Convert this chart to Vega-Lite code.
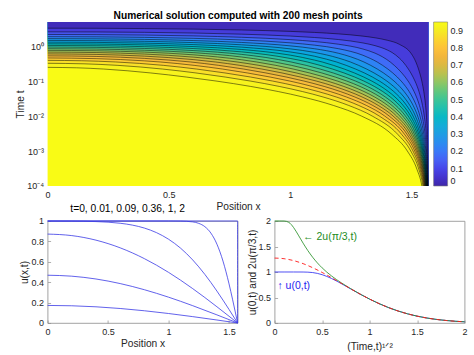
{
 "$schema": "https://vega.github.io/schema/vega-lite/v6.json",
 "background": "white",
 "padding": {"left": 15.6, "top": 10, "right": 2, "bottom": 2},
 "config": {
  "font": "Liberation Sans",
  "view": {"stroke": "#8c8c8c", "strokeWidth": 0.8},
  "axis": {"labelFontSize": 9, "titleFontSize": 10.2, "labelColor": "#262626", "titleColor": "#262626", "titleFontWeight": "normal", "grid": false, "domain": false, "ticks": true, "tickColor": "#8c8c8c", "tickSize": -3, "tickWidth": 0.7, "labelPadding": 7, "titlePadding": 1, "labelFlush": false, "labelOverlap": false},
  "axisX": {"labelPadding": 8},
  "title": {"color": "#000000", "fontSize": 10.2}
 },
 "spacing": 35,
 "bounds": "flush",
 "vconcat": [
  {
   "width": 381, "height": 164,
   "title": {"text": "Numerical solution computed with 200 mesh points", "fontWeight": "bold", "fontSize": 10.2, "offset": 1},
   "view": {"fill": "#f9fb15", "stroke": null},
   "data": {"values": [
{"c":0.95,"x":1.568,"t":1e-6},{"c":0.95,"x":1.562,"t":1e-5},{"c":0.95,"x":1.5431,"t":0.0001},{"c":0.95,"x":1.5228,"t":0.0003},{"c":0.95,"x":1.4831,"t":0.001},{"c":0.95,"x":1.419,"t":0.003},{"c":0.95,"x":1.2936,"t":0.01},{"c":0.95,"x":1.1788,"t":0.02},{"c":0.95,"x":1.0522,"t":0.035},{"c":0.95,"x":0.951,"t":0.05},{"c":0.95,"x":0.8374,"t":0.07},{"c":0.95,"x":0.6943,"t":0.1},{"c":0.95,"x":0.5714,"t":0.13},{"c":0.95,"x":0.425,"t":0.17},{"c":0.95,"x":0.231,"t":0.22},{"c":0.95,"x":0.12,"t":0.2387},{"c":0.95,"x":0,"t":0.2456},
{"c":0.9,"x":1.5685,"t":1e-6},{"c":0.9,"x":1.5634,"t":1e-5},{"c":0.9,"x":1.5475,"t":0.0001},{"c":0.9,"x":1.5305,"t":0.0003},{"c":0.9,"x":1.4972,"t":0.001},{"c":0.9,"x":1.4434,"t":0.003},{"c":0.9,"x":1.3382,"t":0.01},{"c":0.9,"x":1.2418,"t":0.02},{"c":0.9,"x":1.1356,"t":0.035},{"c":0.9,"x":1.0507,"t":0.05},{"c":0.9,"x":0.9554,"t":0.07},{"c":0.9,"x":0.8352,"t":0.1},{"c":0.9,"x":0.7321,"t":0.13},{"c":0.9,"x":0.6117,"t":0.17},{"c":0.9,"x":0.4732,"t":0.22},{"c":0.9,"x":0.29,"t":0.28},{"c":0.9,"x":0.15,"t":0.31},{"c":0.9,"x":0,"t":0.3212},
{"c":0.85,"x":1.5688,"t":1e-6},{"c":0.85,"x":1.5644,"t":1e-5},{"c":0.85,"x":1.5504,"t":0.0001},{"c":0.85,"x":1.5355,"t":0.0003},{"c":0.85,"x":1.5064,"t":0.001},{"c":0.85,"x":1.4593,"t":0.003},{"c":0.85,"x":1.3672,"t":0.01},{"c":0.85,"x":1.2829,"t":0.02},{"c":0.85,"x":1.1899,"t":0.035},{"c":0.85,"x":1.1156,"t":0.05},{"c":0.85,"x":1.0322,"t":0.07},{"c":0.85,"x":0.927,"t":0.1},{"c":0.85,"x":0.8368,"t":0.13},{"c":0.85,"x":0.7314,"t":0.17},{"c":0.85,"x":0.614,"t":0.22},{"c":0.85,"x":0.478,"t":0.28},{"c":0.85,"x":0.281,"t":0.35},{"c":0.85,"x":0.14,"t":0.3795},{"c":0.85,"x":0,"t":0.3892},
{"c":0.8,"x":1.569,"t":1e-6},{"c":0.8,"x":1.5651,"t":1e-5},{"c":0.8,"x":1.5527,"t":0.0001},{"c":0.8,"x":1.5394,"t":0.0003},{"c":0.8,"x":1.5135,"t":0.001},{"c":0.8,"x":1.4715,"t":0.003},{"c":0.8,"x":1.3896,"t":0.01},{"c":0.8,"x":1.3145,"t":0.02},{"c":0.8,"x":1.2317,"t":0.035},{"c":0.8,"x":1.1655,"t":0.05},{"c":0.8,"x":1.0913,"t":0.07},{"c":0.8,"x":0.9977,"t":0.1},{"c":0.8,"x":0.9173,"t":0.13},{"c":0.8,"x":0.8235,"t":0.17},{"c":0.8,"x":0.7207,"t":0.22},{"c":0.8,"x":0.6043,"t":0.28},{"c":0.8,"x":0.464,"t":0.35},{"c":0.8,"x":0.4,"t":0.3764},{"c":0.8,"x":0.3,"t":0.4114},{"c":0.8,"x":0.2,"t":0.436},{"c":0.8,"x":0,"t":0.456},
{"c":0.75,"x":1.5692,"t":1e-6},{"c":0.75,"x":1.5657,"t":1e-5},{"c":0.75,"x":1.5545,"t":0.0001},{"c":0.75,"x":1.5426,"t":0.0003},{"c":0.75,"x":1.5194,"t":0.001},{"c":0.75,"x":1.4817,"t":0.003},{"c":0.75,"x":1.4081,"t":0.01},{"c":0.75,"x":1.3407,"t":0.02},{"c":0.75,"x":1.2664,"t":0.035},{"c":0.75,"x":1.207,"t":0.05},{"c":0.75,"x":1.1404,"t":0.07},{"c":0.75,"x":1.0563,"t":0.1},{"c":0.75,"x":0.9842,"t":0.13},{"c":0.75,"x":0.9,"t":0.17},{"c":0.75,"x":0.8077,"t":0.22},{"c":0.75,"x":0.7056,"t":0.28},{"c":0.75,"x":0.589,"t":0.35},{"c":0.75,"x":0.5,"t":0.3975},{"c":0.75,"x":0.4,"t":0.4433},{"c":0.75,"x":0.2,"t":0.504},{"c":0.75,"x":0,"t":0.5242},
{"c":0.7,"x":1.5693,"t":1e-6},{"c":0.7,"x":1.5662,"t":1e-5},{"c":0.7,"x":1.5561,"t":0.0001},{"c":0.7,"x":1.5454,"t":0.0003},{"c":0.7,"x":1.5244,"t":0.001},{"c":0.7,"x":1.4905,"t":0.003},{"c":0.7,"x":1.4242,"t":0.01},{"c":0.7,"x":1.3635,"t":0.02},{"c":0.7,"x":1.2966,"t":0.035},{"c":0.7,"x":1.2431,"t":0.05},{"c":0.7,"x":1.183,"t":0.07},{"c":0.7,"x":1.1073,"t":0.1},{"c":0.7,"x":1.0423,"t":0.13},{"c":0.7,"x":0.9665,"t":0.17},{"c":0.7,"x":0.8833,"t":0.22},{"c":0.7,"x":0.7927,"t":0.28},{"c":0.7,"x":0.6915,"t":0.35},{"c":0.7,"x":0.6,"t":0.4098},{"c":0.7,"x":0.4,"t":0.5139},{"c":0.7,"x":0.2,"t":0.5753},{"c":0.7,"x":0,"t":0.5953},
{"c":0.65,"x":1.5695,"t":1e-6},{"c":0.65,"x":1.5666,"t":1e-5},{"c":0.65,"x":1.5576,"t":0.0001},{"c":0.65,"x":1.5479,"t":0.0003},{"c":0.65,"x":1.529,"t":0.001},{"c":0.65,"x":1.4984,"t":0.003},{"c":0.65,"x":1.4386,"t":0.01},{"c":0.65,"x":1.3839,"t":0.02},{"c":0.65,"x":1.3235,"t":0.035},{"c":0.65,"x":1.2753,"t":0.05},{"c":0.65,"x":1.2211,"t":0.07},{"c":0.65,"x":1.1528,"t":0.1},{"c":0.65,"x":1.0942,"t":0.13},{"c":0.65,"x":1.0258,"t":0.17},{"c":0.65,"x":0.9508,"t":0.22},{"c":0.65,"x":0.8714,"t":0.28},{"c":0.65,"x":0.781,"t":0.35},{"c":0.65,"x":0.7,"t":0.4129},{"c":0.65,"x":0.6,"t":0.4823},{"c":0.65,"x":0.4,"t":0.5889},{"c":0.65,"x":0.2,"t":0.6507},{"c":0.65,"x":0,"t":0.6708},
{"c":0.6,"x":1.5696,"t":1e-6},{"c":0.6,"x":1.567,"t":1e-5},{"c":0.6,"x":1.5589,"t":0.0001},{"c":0.6,"x":1.5502,"t":0.0003},{"c":0.6,"x":1.5332,"t":0.001},{"c":0.6,"x":1.5056,"t":0.003},{"c":0.6,"x":1.4518,"t":0.01},{"c":0.6,"x":1.4025,"t":0.02},{"c":0.6,"x":1.3481,"t":0.035},{"c":0.6,"x":1.3047,"t":0.05},{"c":0.6,"x":1.2559,"t":0.07},{"c":0.6,"x":1.1944,"t":0.1},{"c":0.6,"x":1.1417,"t":0.13},{"c":0.6,"x":1.0801,"t":0.17},{"c":0.6,"x":1.0125,"t":0.22},{"c":0.6,"x":0.941,"t":0.28},{"c":0.6,"x":0.8614,"t":0.35},{"c":0.6,"x":0.8,"t":0.4046},{"c":0.6,"x":0.6,"t":0.5614},{"c":0.6,"x":0.4,"t":0.6696},{"c":0.6,"x":0.2,"t":0.7315},{"c":0.6,"x":0,"t":0.7516},
{"c":0.55,"x":1.5697,"t":1e-6},{"c":0.55,"x":1.5674,"t":1e-5},{"c":0.55,"x":1.5601,"t":0.0001},{"c":0.55,"x":1.5523,"t":0.0003},{"c":0.55,"x":1.537,"t":0.001},{"c":0.55,"x":1.5123,"t":0.003},{"c":0.55,"x":1.464,"t":0.01},{"c":0.55,"x":1.4197,"t":0.02},{"c":0.55,"x":1.371,"t":0.035},{"c":0.55,"x":1.3319,"t":0.05},{"c":0.55,"x":1.2882,"t":0.07},{"c":0.55,"x":1.233,"t":0.1},{"c":0.55,"x":1.1857,"t":0.13},{"c":0.55,"x":1.1304,"t":0.17},{"c":0.55,"x":1.0698,"t":0.22},{"c":0.55,"x":1.0056,"t":0.28},{"c":0.55,"x":0.935,"t":0.35},{"c":0.55,"x":0.9,"t":0.386},{"c":0.55,"x":0.8,"t":0.4852},{"c":0.55,"x":0.6,"t":0.6479},{"c":0.55,"x":0.4,"t":0.7569},{"c":0.55,"x":0.2,"t":0.8189},{"c":0.55,"x":0,"t":0.839},
{"c":0.5,"x":1.5698,"t":1e-6},{"c":0.5,"x":1.5678,"t":1e-5},{"c":0.5,"x":1.5613,"t":0.0001},{"c":0.5,"x":1.5543,"t":0.0003},{"c":0.5,"x":1.5406,"t":0.001},{"c":0.5,"x":1.5186,"t":0.003},{"c":0.5,"x":1.4754,"t":0.01},{"c":0.5,"x":1.4359,"t":0.02},{"c":0.5,"x":1.3923,"t":0.035},{"c":0.5,"x":1.3575,"t":0.05},{"c":0.5,"x":1.3184,"t":0.07},{"c":0.5,"x":1.2692,"t":0.1},{"c":0.5,"x":1.2269,"t":0.13},{"c":0.5,"x":1.1775,"t":0.17},{"c":0.5,"x":1.1234,"t":0.22},{"c":0.5,"x":1.0661,"t":0.28},{"c":0.5,"x":1.0038,"t":0.35},{"c":0.5,"x":0.9,"t":0.4704},{"c":0.5,"x":0.8,"t":0.5769},{"c":0.5,"x":0.6,"t":0.7425},{"c":0.5,"x":0.4,"t":0.8525},{"c":0.5,"x":0.2,"t":0.9146},{"c":0.5,"x":0,"t":0.9347},
{"c":0.45,"x":1.57,"t":1e-6},{"c":0.45,"x":1.5681,"t":1e-5},{"c":0.45,"x":1.5623,"t":0.0001},{"c":0.45,"x":1.5562,"t":0.0003},{"c":0.45,"x":1.5441,"t":0.001},{"c":0.45,"x":1.5245,"t":0.003},{"c":0.45,"x":1.4863,"t":0.01},{"c":0.45,"x":1.4512,"t":0.02},{"c":0.45,"x":1.4126,"t":0.035},{"c":0.45,"x":1.3818,"t":0.05},{"c":0.45,"x":1.3471,"t":0.07},{"c":0.45,"x":1.3035,"t":0.1},{"c":0.45,"x":1.266,"t":0.13},{"c":0.45,"x":1.2222,"t":0.17},{"c":0.45,"x":1.1743,"t":0.22},{"c":0.45,"x":1.1235,"t":0.28},{"c":0.45,"x":1.0707,"t":0.35},{"c":0.45,"x":1.0,"t":0.4416},{"c":0.45,"x":0.9,"t":0.5699},{"c":0.45,"x":0.8,"t":0.6801},{"c":0.45,"x":0.6,"t":0.848},{"c":0.45,"x":0.4,"t":0.9578},{"c":0.45,"x":0.2,"t":1.0199},{"c":0.45,"x":0,"t":1.04},
{"c":0.4,"x":1.5701,"t":1e-6},{"c":0.4,"x":1.5685,"t":1e-5},{"c":0.4,"x":1.5634,"t":0.0001},{"c":0.4,"x":1.558,"t":0.0003},{"c":0.4,"x":1.5473,"t":0.001},{"c":0.4,"x":1.5302,"t":0.003},{"c":0.4,"x":1.4966,"t":0.01},{"c":0.4,"x":1.4659,"t":0.02},{"c":0.4,"x":1.4321,"t":0.035},{"c":0.4,"x":1.405,"t":0.05},{"c":0.4,"x":1.3746,"t":0.07},{"c":0.4,"x":1.3363,"t":0.1},{"c":0.4,"x":1.3034,"t":0.13},{"c":0.4,"x":1.265,"t":0.17},{"c":0.4,"x":1.223,"t":0.22},{"c":0.4,"x":1.1784,"t":0.28},{"c":0.4,"x":1.1321,"t":0.35},{"c":0.4,"x":1.1,"t":0.397},{"c":0.4,"x":1.0,"t":0.5497},{"c":0.4,"x":0.9,"t":0.6845},{"c":0.4,"x":0.8,"t":0.797},{"c":0.4,"x":0.6,"t":0.9658},{"c":0.4,"x":0.4,"t":1.0756},{"c":0.4,"x":0.2,"t":1.1377},{"c":0.4,"x":0,"t":1.1578},
{"c":0.35,"x":1.5702,"t":1e-6},{"c":0.35,"x":1.5688,"t":1e-5},{"c":0.35,"x":1.5644,"t":0.0001},{"c":0.35,"x":1.5597,"t":0.0003},{"c":0.35,"x":1.5505,"t":0.001},{"c":0.35,"x":1.5357,"t":0.003},{"c":0.35,"x":1.5066,"t":0.01},{"c":0.35,"x":1.4801,"t":0.02},{"c":0.35,"x":1.4508,"t":0.035},{"c":0.35,"x":1.4273,"t":0.05},{"c":0.35,"x":1.401,"t":0.07},{"c":0.35,"x":1.3679,"t":0.1},{"c":0.35,"x":1.3394,"t":0.13},{"c":0.35,"x":1.3062,"t":0.17},{"c":0.35,"x":1.2698,"t":0.22},{"c":0.35,"x":1.2313,"t":0.28},{"c":0.35,"x":1.1912,"t":0.35},{"c":0.35,"x":1.15,"t":0.4211},{"c":0.35,"x":1.1,"t":0.5126},{"c":0.35,"x":1.0,"t":0.6784},{"c":0.35,"x":0.8,"t":0.9299},{"c":0.35,"x":0.6,"t":1.0993},{"c":0.35,"x":0.4,"t":1.2091},{"c":0.35,"x":0.2,"t":1.2712},{"c":0.35,"x":0,"t":1.2913},
{"c":0.3,"x":1.5703,"t":1e-6},{"c":0.3,"x":1.5691,"t":1e-5},{"c":0.3,"x":1.5654,"t":0.0001},{"c":0.3,"x":1.5614,"t":0.0003},{"c":0.3,"x":1.5536,"t":0.001},{"c":0.3,"x":1.541,"t":0.003},{"c":0.3,"x":1.5163,"t":0.01},{"c":0.3,"x":1.4937,"t":0.02},{"c":0.3,"x":1.4689,"t":0.035},{"c":0.3,"x":1.449,"t":0.05},{"c":0.3,"x":1.4266,"t":0.07},{"c":0.3,"x":1.3985,"t":0.1},{"c":0.3,"x":1.3743,"t":0.13},{"c":0.3,"x":1.3461,"t":0.17},{"c":0.3,"x":1.3152,"t":0.22},{"c":0.3,"x":1.2825,"t":0.28},{"c":0.3,"x":1.2484,"t":0.35},{"c":0.3,"x":1.2,"t":0.4516},{"c":0.3,"x":1.1,"t":0.6588},{"c":0.3,"x":1.0,"t":0.8307},{"c":0.3,"x":0.8,"t":1.0841},{"c":0.3,"x":0.6,"t":1.2535},{"c":0.3,"x":0.4,"t":1.3633},{"c":0.3,"x":0.2,"t":1.4254},{"c":0.3,"x":0,"t":1.4455},
{"c":0.25,"x":1.5704,"t":1e-6},{"c":0.25,"x":1.5694,"t":1e-5},{"c":0.25,"x":1.5663,"t":0.0001},{"c":0.25,"x":1.563,"t":0.0003},{"c":0.25,"x":1.5566,"t":0.001},{"c":0.25,"x":1.5461,"t":0.003},{"c":0.25,"x":1.5257,"t":0.01},{"c":0.25,"x":1.5071,"t":0.02},{"c":0.25,"x":1.4865,"t":0.035},{"c":0.25,"x":1.47,"t":0.05},{"c":0.25,"x":1.4516,"t":0.07},{"c":0.25,"x":1.4283,"t":0.1},{"c":0.25,"x":1.4083,"t":0.13},{"c":0.25,"x":1.385,"t":0.17},{"c":0.25,"x":1.3594,"t":0.22},{"c":0.25,"x":1.3324,"t":0.28},{"c":0.25,"x":1.3042,"t":0.35},{"c":0.25,"x":1.25,"t":0.49},{"c":0.25,"x":1.2,"t":0.6188},{"c":0.25,"x":1.1,"t":0.8381},{"c":0.25,"x":1.0,"t":1.0122},{"c":0.25,"x":0.8,"t":1.2664},{"c":0.25,"x":0.6,"t":1.4358},{"c":0.25,"x":0.4,"t":1.5456},{"c":0.25,"x":0.2,"t":1.6077},{"c":0.25,"x":0,"t":1.6278},
{"c":0.2,"x":1.5705,"t":1e-6},{"c":0.2,"x":1.5697,"t":1e-5},{"c":0.2,"x":1.5672,"t":0.0001},{"c":0.2,"x":1.5646,"t":0.0003},{"c":0.2,"x":1.5595,"t":0.001},{"c":0.2,"x":1.5512,"t":0.003},{"c":0.2,"x":1.535,"t":0.01},{"c":0.2,"x":1.5201,"t":0.02},{"c":0.2,"x":1.5038,"t":0.035},{"c":0.2,"x":1.4907,"t":0.05},{"c":0.2,"x":1.476,"t":0.07},{"c":0.2,"x":1.4575,"t":0.1},{"c":0.2,"x":1.4416,"t":0.13},{"c":0.2,"x":1.4231,"t":0.17},{"c":0.2,"x":1.4028,"t":0.22},{"c":0.2,"x":1.3812,"t":0.28},{"c":0.2,"x":1.3588,"t":0.35},{"c":0.2,"x":1.33,"t":0.443},{"c":0.2,"x":1.3,"t":0.545},{"c":0.2,"x":1.2,"t":0.8369},{"c":0.2,"x":1.1,"t":1.0604},{"c":0.2,"x":1.0,"t":1.2354},{"c":0.2,"x":0.8,"t":1.4896},{"c":0.2,"x":0.6,"t":1.659},{"c":0.2,"x":0.4,"t":1.7688},{"c":0.2,"x":0.2,"t":1.8309},{"c":0.2,"x":0,"t":1.851},
{"c":0.15,"x":1.5706,"t":1e-6},{"c":0.15,"x":1.57,"t":1e-5},{"c":0.15,"x":1.5681,"t":0.0001},{"c":0.15,"x":1.5662,"t":0.0003},{"c":0.15,"x":1.5623,"t":0.001},{"c":0.15,"x":1.5562,"t":0.003},{"c":0.15,"x":1.5441,"t":0.01},{"c":0.15,"x":1.533,"t":0.02},{"c":0.15,"x":1.5208,"t":0.035},{"c":0.15,"x":1.511,"t":0.05},{"c":0.15,"x":1.5,"t":0.07},{"c":0.15,"x":1.4862,"t":0.1},{"c":0.15,"x":1.4744,"t":0.13},{"c":0.15,"x":1.4605,"t":0.17},{"c":0.15,"x":1.4454,"t":0.22},{"c":0.15,"x":1.4293,"t":0.28},{"c":0.15,"x":1.4126,"t":0.35},{"c":0.15,"x":1.38,"t":0.494},{"c":0.15,"x":1.35,"t":0.6267},{"c":0.15,"x":1.3,"t":0.8213},{"c":0.15,"x":1.2,"t":1.1236},{"c":0.15,"x":1.1,"t":1.3481},{"c":0.15,"x":1.0,"t":1.5231},{"c":0.15,"x":0.8,"t":1.7773},{"c":0.15,"x":0.6,"t":1.9467},{"c":0.15,"x":0.4,"t":2.0565},{"c":0.15,"x":0.2,"t":2.1186},{"c":0.15,"x":0,"t":2.1387},
{"c":0.1,"x":1.5707,"t":1e-6},{"c":0.1,"x":1.5702,"t":1e-5},{"c":0.1,"x":1.569,"t":0.0001},{"c":0.1,"x":1.5677,"t":0.0003},{"c":0.1,"x":1.5652,"t":0.001},{"c":0.1,"x":1.5611,"t":0.003},{"c":0.1,"x":1.553,"t":0.01},{"c":0.1,"x":1.5457,"t":0.02},{"c":0.1,"x":1.5376,"t":0.035},{"c":0.1,"x":1.5311,"t":0.05},{"c":0.1,"x":1.5238,"t":0.07},{"c":0.1,"x":1.5146,"t":0.1},{"c":0.1,"x":1.5067,"t":0.13},{"c":0.1,"x":1.4975,"t":0.17},{"c":0.1,"x":1.4874,"t":0.22},{"c":0.1,"x":1.4768,"t":0.28},{"c":0.1,"x":1.4657,"t":0.35},{"c":0.1,"x":1.45,"t":0.4525},{"c":0.1,"x":1.42,"t":0.654},{"c":0.1,"x":1.4,"t":0.774},{"c":0.1,"x":1.35,"t":1.0255},{"c":0.1,"x":1.3,"t":1.2255},{"c":0.1,"x":1.2,"t":1.5291},{"c":0.1,"x":1.1,"t":1.7536},{"c":0.1,"x":1.0,"t":1.9286},{"c":0.1,"x":0.8,"t":2.1828},{"c":0.1,"x":0.6,"t":2.3522},{"c":0.1,"x":0.4,"t":2.462},{"c":0.1,"x":0.2,"t":2.5241},{"c":0.1,"x":0,"t":2.5442},
{"c":0.05,"x":1.57075,"t":1e-6},{"c":0.05,"x":1.5705,"t":1e-5},{"c":0.05,"x":1.5699,"t":0.0001},{"c":0.05,"x":1.5693,"t":0.0003},{"c":0.05,"x":1.568,"t":0.001},{"c":0.05,"x":1.5659,"t":0.003},{"c":0.05,"x":1.5619,"t":0.01},{"c":0.05,"x":1.5583,"t":0.02},{"c":0.05,"x":1.5542,"t":0.035},{"c":0.05,"x":1.551,"t":0.05},{"c":0.05,"x":1.5473,"t":0.07},{"c":0.05,"x":1.5428,"t":0.1},{"c":0.05,"x":1.5388,"t":0.13},{"c":0.05,"x":1.5342,"t":0.17},{"c":0.05,"x":1.5292,"t":0.22},{"c":0.05,"x":1.5239,"t":0.28},{"c":0.05,"x":1.5183,"t":0.35},{"c":0.05,"x":1.51,"t":0.4601},{"c":0.05,"x":1.5,"t":0.597},{"c":0.05,"x":1.45,"t":1.1212},{"c":0.05,"x":1.4,"t":1.4652},{"c":0.05,"x":1.35,"t":1.7187},{"c":0.05,"x":1.3,"t":1.9186},{"c":0.05,"x":1.2,"t":2.2222},{"c":0.05,"x":1.1,"t":2.4467},{"c":0.05,"x":1.0,"t":2.6217},{"c":0.05,"x":0.8,"t":2.8759},{"c":0.05,"x":0.6,"t":3.0453},{"c":0.05,"x":0.4,"t":3.1551},{"c":0.05,"x":0.2,"t":3.2172},{"c":0.05,"x":0,"t":3.2373}
   ]},
   "encoding": {
    "x": {"field": "x", "type": "quantitative", "scale": {"domain": [0, 1.5708], "nice": false, "zero": false}, "axis": {"title": "Position x", "values": [0, 0.5, 1, 1.5], "format": "~g", "ticks": false, "labelPadding": 5, "titleY": 20.4, "titleBaseline": "middle"}},
    "y": {"field": "t", "type": "quantitative", "scale": {"type": "log", "domain": [0.0001, 4.86], "nice": false}, "axis": {"title": "Time t", "values": [0.0001, 0.001, 0.01, 0.1, 1], "labelExpr": "datum.value < 0.0005 ? '10⁻⁴' : datum.value < 0.005 ? '10⁻³' : datum.value < 0.05 ? '10⁻²' : datum.value < 0.5 ? '10⁻¹' : '10⁰'", "ticks": false, "labelPadding": 4, "titleX": -27, "titleBaseline": "middle"}}
   },
   "layer": [
    {"mark": {"type": "area", "interpolate": "monotone", "clip": true},
     "encoding": {
      "y2": {"datum": 4.86},
      "fill": {"field": "c", "type": "quantitative", "legend": null, "scale": {"domain": [0.025,0.075,0.125,0.175,0.225,0.275,0.325,0.375,0.425,0.475,0.525,0.575,0.625,0.675,0.725,0.775,0.825,0.875,0.925,0.975], "range": ["#3e26a8","#4433cd","#4745e9","#4760f5","#3a78f8","#2b8cf0","#1f9de4","#14acd8","#08b8c6","#20c0b0","#3cc597","#62c77c","#8fc664","#b9c14e","#dbb942","#f2b63c","#fdc239","#fbd52e","#f5eb23","#f9fb15"]}},
      "detail": {"field": "c", "type": "nominal"}
     }},
    {"mark": {"type": "line", "interpolate": "monotone", "clip": true, "color": "#000000", "strokeWidth": 0.55, "opacity": 0.9},
     "encoding": {"detail": {"field": "c", "type": "nominal"}}},
    {"mark": {"type": "point", "opacity": 0, "filled": true, "size": 1, "clip": true},
     "encoding": {"color": {"field": "c", "type": "quantitative",
       "scale": {"domain": [0,0.05,0.1,0.15,0.2,0.25,0.3,0.35,0.4,0.45,0.5,0.55,0.6,0.65,0.7,0.75,0.8,0.85,0.9,0.95], "range": ["#3e26a8","#4433cd","#4745e9","#4760f5","#3a78f8","#2b8cf0","#1f9de4","#14acd8","#08b8c6","#20c0b0","#3cc597","#62c77c","#8fc664","#b9c14e","#dbb942","#f2b63c","#fdc239","#fbd52e","#f5eb23","#f9fb15"]},
       "legend": {"orient": "none", "legendX": 386, "legendY": 0, "direction": "vertical", "gradientLength": 164, "gradientThickness": 14, "title": null, "padding": 0, "values": [0,0.1,0.2,0.3,0.4,0.5,0.6,0.7,0.8,0.9], "format": "~g", "labelFontSize": 9, "labelColor": "#262626", "labelOffset": 3, "labelBaseline": "middle", "labelOverlap": false, "gradientStrokeColor": "#7a7a7a", "gradientStrokeWidth": 0.6}}}}
   ]
  },
  {
   "hconcat": [
    {
     "width": 190, "height": 102,
     "title": {"text": "t=0, 0.01, 0.09, 0.36, 1, 2", "fontSize": 10.3, "fontWeight": "normal", "offset": 2.5, "dx": -15},
     "data": {"values": [
{"t":0,"x":0,"u":1},{"t":0,"x":1.5707,"u":1},{"t":0,"x":1.5708,"u":0},
{"t":0.01,"x":0,"u":1},{"t":0.01,"x":0.5,"u":1},{"t":0.01,"x":1,"u":1},{"t":0.01,"x":1.1,"u":0.9991},{"t":0.01,"x":1.2,"u":0.9913},{"t":0.01,"x":1.25,"u":0.9767},{"t":0.01,"x":1.3,"u":0.9445},{"t":0.01,"x":1.35,"u":0.8815},{"t":0.01,"x":1.4,"u":0.7728},{"t":0.01,"x":1.45,"u":0.607},{"t":0.01,"x":1.5,"u":0.3834},{"t":0.01,"x":1.53,"u":0.227},{"t":0.01,"x":1.55,"u":0.1169},{"t":0.01,"x":1.5708,"u":0},
{"t":0.09,"x":0,"u":0.9996},{"t":0.09,"x":0.2,"u":0.9987},{"t":0.09,"x":0.4,"u":0.9942},{"t":0.09,"x":0.6,"u":0.9779},{"t":0.09,"x":0.7,"u":0.9599},{"t":0.09,"x":0.8,"u":0.9308},{"t":0.09,"x":0.9,"u":0.8861},{"t":0.09,"x":1.0,"u":0.8213},{"t":0.09,"x":1.1,"u":0.733},{"t":0.09,"x":1.2,"u":0.6179},{"t":0.09,"x":1.3,"u":0.4767},{"t":0.09,"x":1.4,"u":0.3128},{"t":0.09,"x":1.45,"u":0.2242},{"t":0.09,"x":1.5,"u":0.1325},{"t":0.09,"x":1.5708,"u":0},
{"t":0.36,"x":0,"u":0.8717},{"t":0.36,"x":0.2,"u":0.8569},{"t":0.36,"x":0.4,"u":0.8122},{"t":0.36,"x":0.6,"u":0.7369},{"t":0.36,"x":0.8,"u":0.6311},{"t":0.36,"x":1.0,"u":0.4964},{"t":0.36,"x":1.2,"u":0.3368},{"t":0.36,"x":1.3,"u":0.2497},{"t":0.36,"x":1.4,"u":0.1591},{"t":0.36,"x":1.5,"u":0.0663},{"t":0.36,"x":1.5708,"u":0},
{"t":1,"x":0,"u":0.4684},{"t":1,"x":0.2,"u":0.459},{"t":1,"x":0.4,"u":0.4314},{"t":1,"x":0.6,"u":0.3866},{"t":1,"x":0.8,"u":0.3263},{"t":1,"x":1.0,"u":0.2531},{"t":1,"x":1.2,"u":0.1697},{"t":1,"x":1.4,"u":0.0796},{"t":1,"x":1.5,"u":0.0331},{"t":1,"x":1.5708,"u":0},
{"t":2,"x":0,"u":0.1723},{"t":2,"x":0.2,"u":0.1689},{"t":2,"x":0.4,"u":0.1587},{"t":2,"x":0.6,"u":0.1422},{"t":2,"x":0.8,"u":0.12},{"t":2,"x":1.0,"u":0.0931},{"t":2,"x":1.2,"u":0.0624},{"t":2,"x":1.4,"u":0.0293},{"t":2,"x":1.5,"u":0.0122},{"t":2,"x":1.5708,"u":0}
     ]},
     "mark": {"type": "line", "interpolate": "monotone", "color": "#3a3ae6", "strokeWidth": 0.8},
     "encoding": {
      "x": {"field": "x", "type": "quantitative", "scale": {"domain": [0, 1.5708], "nice": false, "zero": false}, "axis": {"title": "Position x", "values": [0, 0.5, 1, 1.5], "format": "~g", "titleY": 20.2, "titleBaseline": "middle"}},
      "y": {"field": "u", "type": "quantitative", "scale": {"domain": [0, 1], "nice": false}, "axis": {"title": "u(x,t)", "values": [0, 0.2, 0.4, 0.6, 0.8, 1], "format": "~g", "titleX": -23, "titleBaseline": "middle"}},
      "detail": {"field": "t", "type": "nominal"}
     }
    },
    {
     "width": 190, "height": 102,
     "data": {"values": [
{"curve":"u0","r":0,"v":1},{"curve":"u0","r":0.1,"v":1},{"curve":"u0","r":0.2,"v":1},{"curve":"u0","r":0.3,"v":0.9996},{"curve":"u0","r":0.35,"v":0.9968},{"curve":"u0","r":0.4,"v":0.989},{"curve":"u0","r":0.45,"v":0.9728},{"curve":"u0","r":0.5,"v":0.9474},{"curve":"u0","r":0.55,"v":0.9131},{"curve":"u0","r":0.6,"v":0.8717},{"curve":"u0","r":0.65,"v":0.825},{"curve":"u0","r":0.7,"v":0.7749},{"curve":"u0","r":0.8,"v":0.67},{"curve":"u0","r":0.9,"v":0.5661},{"curve":"u0","r":1.0,"v":0.4683},{"curve":"u0","r":1.1,"v":0.3797},{"curve":"u0","r":1.2,"v":0.3017},{"curve":"u0","r":1.3,"v":0.2349},{"curve":"u0","r":1.4,"v":0.1793},{"curve":"u0","r":1.5,"v":0.1342},{"curve":"u0","r":1.6,"v":0.0984},{"curve":"u0","r":1.7,"v":0.0708},{"curve":"u0","r":1.8,"v":0.0499},{"curve":"u0","r":1.9,"v":0.0344},{"curve":"u0","r":2.0,"v":0.0233},
{"curve":"u3","r":0,"v":2},{"curve":"u3","r":0.05,"v":2},{"curve":"u3","r":0.1,"v":1.9996},{"curve":"u3","r":0.15,"v":1.9728},{"curve":"u3","r":0.2,"v":1.8718},{"curve":"u3","r":0.25,"v":1.7228},{"curve":"u3","r":0.3,"v":1.5657},{"curve":"u3","r":0.35,"v":1.4197},{"curve":"u3","r":0.4,"v":1.2907},{"curve":"u3","r":0.45,"v":1.1787},{"curve":"u3","r":0.5,"v":1.0815},{"curve":"u3","r":0.55,"v":0.9967},{"curve":"u3","r":0.6,"v":0.9216},{"curve":"u3","r":0.65,"v":0.8534},{"curve":"u3","r":0.7,"v":0.7903},{"curve":"u3","r":0.8,"v":0.674},{"curve":"u3","r":0.9,"v":0.567},{"curve":"u3","r":1.0,"v":0.4685},{"curve":"u3","r":1.1,"v":0.3797},{"curve":"u3","r":1.2,"v":0.3017},{"curve":"u3","r":1.3,"v":0.2349},{"curve":"u3","r":1.4,"v":0.1793},{"curve":"u3","r":1.5,"v":0.1342},{"curve":"u3","r":1.6,"v":0.0984},{"curve":"u3","r":1.7,"v":0.0708},{"curve":"u3","r":1.8,"v":0.0499},{"curve":"u3","r":1.9,"v":0.0344},{"curve":"u3","r":2.0,"v":0.0233},
{"curve":"exp","r":0,"v":1.2732},{"curve":"exp","r":0.1,"v":1.2605},{"curve":"exp","r":0.2,"v":1.2233},{"curve":"exp","r":0.3,"v":1.1636},{"curve":"exp","r":0.4,"v":1.085},{"curve":"exp","r":0.5,"v":0.9916},{"curve":"exp","r":0.6,"v":0.8883},{"curve":"exp","r":0.7,"v":0.78},{"curve":"exp","r":0.8,"v":0.6713},{"curve":"exp","r":0.9,"v":0.5664},{"curve":"exp","r":1.0,"v":0.4684},{"curve":"exp","r":1.1,"v":0.3797},{"curve":"exp","r":1.2,"v":0.3017},{"curve":"exp","r":1.3,"v":0.2349},{"curve":"exp","r":1.4,"v":0.1793},{"curve":"exp","r":1.5,"v":0.1342},{"curve":"exp","r":1.6,"v":0.0984},{"curve":"exp","r":1.7,"v":0.0708},{"curve":"exp","r":1.8,"v":0.0499},{"curve":"exp","r":1.9,"v":0.0344},{"curve":"exp","r":2.0,"v":0.0233}
     ]},
     "encoding": {
      "x": {"field": "r", "type": "quantitative", "scale": {"domain": [0, 2], "nice": false}, "axis": {"title": "(Time,t)¹ᐟ²", "values": [0, 0.5, 1, 1.5, 2], "format": "~g", "titleY": 24, "titleBaseline": "middle"}},
      "y": {"field": "v", "type": "quantitative", "scale": {"domain": [0, 2], "nice": false}, "axis": {"title": "u(0,t) and 2u(π/3,t)", "values": [0, 0.5, 1, 1.5, 2], "format": "~g", "titleX": -22.2, "titleBaseline": "middle"}}
     },
     "layer": [
      {"transform": [{"filter": {"field": "curve", "equal": "u0"}}], "mark": {"type": "line", "interpolate": "monotone", "color": "#2424f0", "strokeWidth": 0.8}},
      {"transform": [{"filter": {"field": "curve", "equal": "u3"}}], "mark": {"type": "line", "interpolate": "monotone", "color": "#1e8c1e", "strokeWidth": 0.8}},
      {"transform": [{"filter": {"field": "curve", "equal": "exp"}}], "mark": {"type": "line", "interpolate": "monotone", "color": "#ff1a1a", "strokeWidth": 0.9, "strokeDash": [4, 3]}},
      {"data": {"values": [{"r": 0.3, "v": 1.69, "label": "← 2u(π/3,t)"}]}, "mark": {"type": "text", "align": "left", "baseline": "middle", "fontSize": 10.5, "color": "#1e8c1e"}, "encoding": {"text": {"field": "label", "type": "nominal"}}},
      {"data": {"values": [{"r": 0.03, "v": 0.73, "label": "↑ u(0,t)"}]}, "mark": {"type": "text", "align": "left", "baseline": "middle", "fontSize": 10.5, "color": "#2424f0"}, "encoding": {"text": {"field": "label", "type": "nominal"}}}
     ]
    }
   ],
   "spacing": 37,
   "bounds": "flush"
  }
 ]
}
